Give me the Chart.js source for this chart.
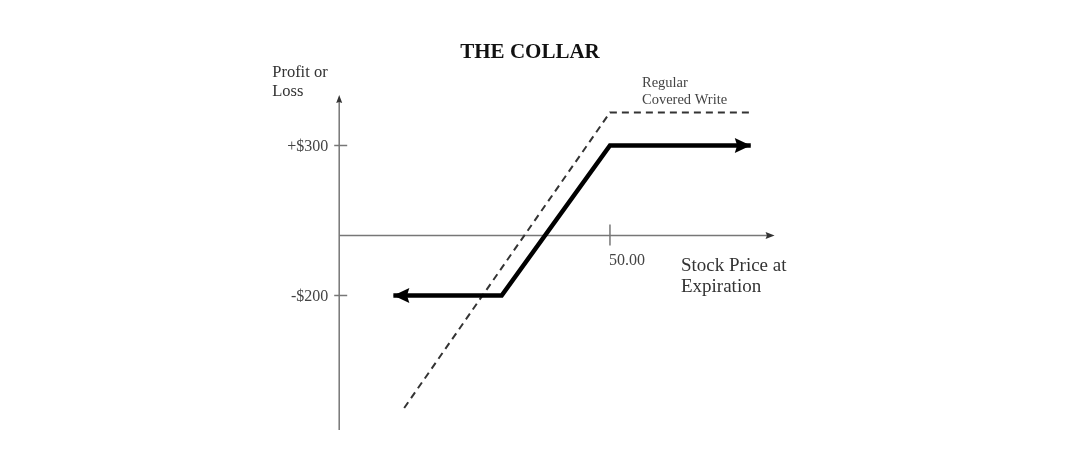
<!DOCTYPE html>
<html>
<head>
<meta charset="utf-8">
<script src="https://cdn.jsdelivr.net/npm/chart.js@4"></script>
<style>
  html, body { margin: 0; padding: 0; background: #fff; }
  #wrap { width: 1080px; height: 476px; position: relative; }
</style>
</head>
<body>
<div id="wrap"><canvas id="collarChart"></canvas></div>
<script>
// ---------------------- DATA ----------------------
const collarPrices = [40, 45, 50, 56.5];
const collarPL = [-200, -200, 300, 300];

const coveredPrices = [40.5, 50, 56.5];
const coveredPL = [-575, 410, 410];

const yTickValues = [300, -200];
const yTickLabels = ["+$300", "-$200"];
const xTickValues = [50];
const xTickLabels = ["50.00"];

// axis line extents (data units)
const xAxisRange = [37.5, 57.6];
const yAxisRange = [-648, 468];

const toPoints = (xs, ys) => xs.map((x, i) => ({ x, y: ys[i] }));

// ---------------------- HELPERS ----------------------
function arrowHead(ctx, tipX, tipY, angle, len, half, color) {
  ctx.save();
  ctx.translate(tipX, tipY);
  ctx.rotate(angle);
  ctx.fillStyle = color;
  ctx.beginPath();
  ctx.moveTo(0, 0);
  ctx.lineTo(-len, -half);
  ctx.lineTo(-len * 0.85, 0);
  ctx.lineTo(-len, half);
  ctx.closePath();
  ctx.fill();
  ctx.restore();
}

// ---------------------- AXES PLUGIN ----------------------
const axesPlugin = {
  id: "collarAxes",
  beforeDatasetsDraw(chart) {
    const { ctx, scales: { x, y } } = chart;
    const ox = x.getPixelForValue(xAxisRange[0]);
    const oy = y.getPixelForValue(0);
    const xEnd = x.getPixelForValue(xAxisRange[1]);
    const yTop = y.getPixelForValue(yAxisRange[1]);
    const yBot = y.getPixelForValue(yAxisRange[0]);

    ctx.save();
    ctx.strokeStyle = "#777";
    ctx.lineWidth = 1.5;
    ctx.beginPath();
    ctx.moveTo(ox, yBot);
    ctx.lineTo(ox, yTop + 4);
    ctx.moveTo(ox, oy);
    ctx.lineTo(xEnd - 4, oy);
    ctx.stroke();
    arrowHead(ctx, ox, yTop, -Math.PI / 2, 8, 3, "#333");
    arrowHead(ctx, xEnd, oy, 0, 9, 3.5, "#333");

    // y ticks
    ctx.font = "16px 'Liberation Serif', serif";
    ctx.fillStyle = "#444";
    ctx.textAlign = "right";
    ctx.textBaseline = "middle";
    yTickValues.forEach((v, i) => {
      const py = y.getPixelForValue(v);
      ctx.beginPath();
      ctx.moveTo(ox - 5, py);
      ctx.lineTo(ox + 8, py);
      ctx.stroke();
      ctx.fillText(yTickLabels[i], ox - 11, py + 1);
    });

    // x ticks
    ctx.textAlign = "left";
    xTickValues.forEach((v, i) => {
      const px = x.getPixelForValue(v);
      ctx.beginPath();
      ctx.moveTo(px, oy - 11);
      ctx.lineTo(px, oy + 10);
      ctx.stroke();
      ctx.fillText(xTickLabels[i], px - 1, oy + 25);
    });
    ctx.restore();
  },
  afterDatasetsDraw(chart) {
    const { ctx, scales: { x, y } } = chart;
    const ox = x.getPixelForValue(xAxisRange[0]);
    const oy = y.getPixelForValue(0);
    const yTop = y.getPixelForValue(yAxisRange[1]);

    // arrowheads on the collar line
    const pts = chart.getDatasetMeta(0).data;
    const first = pts[0], last = pts[pts.length - 1];
    arrowHead(ctx, first.x, first.y, Math.PI, 16, 7.5, "#000");
    arrowHead(ctx, last.x, last.y, 0, 16, 7.5, "#000");

    ctx.save();
    // title
    ctx.fillStyle = "#111";
    ctx.font = "bold 21px 'Liberation Serif', serif";
    ctx.textAlign = "center";
    ctx.textBaseline = "middle";
    ctx.fillText("THE COLLAR", 530, 53);

    // axis labels
    ctx.fillStyle = "#333";
    ctx.textAlign = "left";
    ctx.font = "16.5px 'Liberation Serif', serif";
    ctx.fillText("Profit or", ox - 67, yTop - 22);
    ctx.fillText("Loss", ox - 67, yTop - 3);

    const sx = x.getPixelForValue(xTickValues[0]);
    ctx.font = "19px 'Liberation Serif', serif";
    ctx.fillText("Stock Price at", sx + 71, oy + 31);
    ctx.fillText("Expiration", sx + 71, oy + 52);

    // covered write label
    const cp = chart.getDatasetMeta(1).data[1];
    ctx.font = "14.5px 'Liberation Serif', serif";
    ctx.fillStyle = "#444";
    ctx.fillText("Regular", cp.x + 32, cp.y - 29);
    ctx.fillText("Covered Write", cp.x + 32, cp.y - 12);
    ctx.restore();
  },
};

// ---------------------- CHART ----------------------
new Chart(document.getElementById("collarChart"), {
  type: "line",
  data: {
    datasets: [
      {
        label: "The Collar",
        data: toPoints(collarPrices, collarPL),
        borderColor: "#000",
        borderWidth: 4.5,
        borderJoinStyle: "miter",
        pointRadius: 0,
        tension: 0,
        fill: false,
      },
      {
        label: "Regular Covered Write",
        data: toPoints(coveredPrices, coveredPL),
        borderColor: "#333",
        borderWidth: 2,
        borderDash: [7, 5],
        pointRadius: 0,
        tension: 0,
        fill: false,
      },
    ],
  },
  options: {
    responsive: true,
    maintainAspectRatio: false,
    animation: false,
    layout: { padding: 0 },
    plugins: {
      legend: { display: false },
      tooltip: { enabled: false },
      title: { display: false },
    },
    scales: {
      x: { type: "linear", min: 21.84, max: 71.7, display: false },
      y: { type: "linear", min: -801.7, max: 785, display: false },
    },
  },
  plugins: [axesPlugin],
});
</script>
</body>
</html>
